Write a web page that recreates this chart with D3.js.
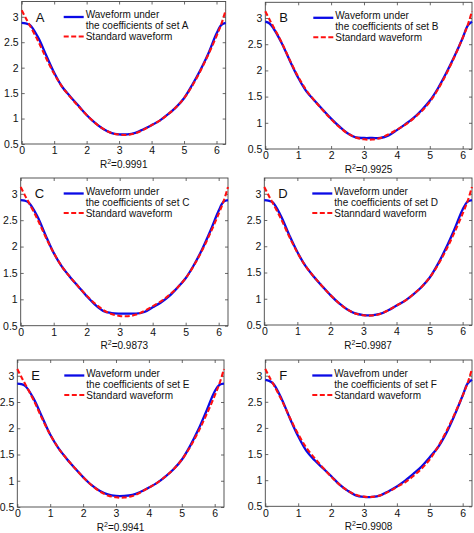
<!DOCTYPE html>
<html>
<head>
<meta charset="utf-8">
<script src="https://cdn.jsdelivr.net/npm/d3@7"></script>
<style>
  body { margin: 0; background: #fff; }
  text { font-family: "Liberation Sans", Arial, sans-serif; fill: #111; }
</style>
</head>
<body>
<script>
// sample positions along the x axis (radians)
const xs = [0, 0.12, 0.25, 0.5, 0.75, 1, 1.25, 1.5, 1.75, 2, 2.25, 2.5, 2.75, 3, 3.25, 3.5, 3.75, 4, 4.25, 4.5, 4.75, 5, 5.25, 5.5, 5.75, 6, 6.15, 6.283]

// standard waveform (red dashed), same in every panel
const standardWave = [3.13, 2.98, 2.83, 2.53, 2.19, 1.88, 1.62, 1.42, 1.24, 1.07, 0.92, 0.80, 0.72, 0.685, 0.68, 0.71, 0.78, 0.87, 0.96, 1.08, 1.22, 1.40, 1.64, 1.93, 2.26, 2.62, 2.86, 3.13]

// waveforms under each coefficient set (blue)
const waveA = [2.88, 2.87, 2.84, 2.60, 2.25, 1.90, 1.62, 1.43, 1.25, 1.07, 0.92, 0.80, 0.72, 0.69, 0.69, 0.72, 0.79, 0.87, 0.96, 1.08, 1.22, 1.40, 1.66, 1.95, 2.28, 2.67, 2.84, 2.88]
const waveB = [2.93, 2.90, 2.80, 2.52, 2.18, 1.86, 1.60, 1.42, 1.25, 1.08, 0.93, 0.80, 0.72, 0.71, 0.71, 0.71, 0.76, 0.86, 0.97, 1.09, 1.24, 1.42, 1.66, 1.95, 2.27, 2.62, 2.85, 2.93]
const waveC = [2.88, 2.87, 2.83, 2.58, 2.22, 1.88, 1.62, 1.42, 1.24, 1.06, 0.90, 0.78, 0.74, 0.73, 0.73, 0.73, 0.76, 0.85, 0.94, 1.06, 1.22, 1.40, 1.65, 1.95, 2.30, 2.68, 2.85, 2.88]
const waveD = [2.88, 2.87, 2.84, 2.58, 2.22, 1.89, 1.62, 1.42, 1.24, 1.07, 0.92, 0.80, 0.72, 0.69, 0.685, 0.71, 0.78, 0.87, 0.96, 1.08, 1.22, 1.40, 1.66, 1.97, 2.32, 2.70, 2.85, 2.88]
const waveE = [2.85, 2.84, 2.80, 2.56, 2.22, 1.88, 1.62, 1.42, 1.24, 1.07, 0.92, 0.81, 0.74, 0.71, 0.71, 0.73, 0.79, 0.87, 0.96, 1.08, 1.22, 1.40, 1.66, 1.97, 2.33, 2.70, 2.83, 2.85]
const waveF = [2.92, 2.90, 2.84, 2.55, 2.18, 1.84, 1.56, 1.38, 1.23, 1.08, 0.92, 0.80, 0.71, 0.68, 0.68, 0.71, 0.79, 0.88, 0.99, 1.12, 1.26, 1.44, 1.63, 1.90, 2.24, 2.62, 2.85, 2.92]

const panelLetters = ['A', 'B', 'C', 'D', 'E', 'F']
const rSquared = ['0.9991', '0.9925', '0.9873', '0.9987', '0.9941', '0.9908']
const legendFirst = ['Waveform under', 'Waveform under', 'Waveform under', 'Waveform under', 'Waveform under', 'Wavefrom under']
const legendStandard = ['Standard waveform', 'Standard waveform', 'Standard waveform', 'Stanndard waveform', 'Standard waveform', 'Standard waveform']

const xTicks = [0, 1, 2, 3, 4, 5, 6]
const yTicks = [0.5, 1, 1.5, 2, 2.5, 3]

// plot boxes in pixels, and legend line offset
const boxes = [
  { l: 21.7, r: 225.7, t: 1.5, b: 144, lx: 42 },
  { l: 265.3, r: 472, t: 2.3, b: 149, lx: 48 },
  { l: 20.7, r: 228, t: 178, b: 325.7, lx: 43 },
  { l: 264.3, r: 472, t: 178, b: 325, lx: 48 },
  { l: 17.3, r: 224, t: 360, b: 507, lx: 47 },
  { l: 265.3, r: 472, t: 360, b: 506.3, lx: 47 }
]
const blueWaves = [waveA, waveB, waveC, waveD, waveE, waveF]

const svg = d3.select('body').append('svg').attr('width', 474).attr('height', 533)

boxes.forEach(function(bx, i) {
  const x = d3.scaleLinear().domain([0, 2 * Math.PI]).range([bx.l, bx.r])
  const y = d3.scaleLinear().domain([0.5, 3.3]).range([bx.b, bx.t])
  const g = svg.append('g')

  // axes with inward ticks, MATLAB box style
  g.append('g').attr('transform', 'translate(0,' + bx.b + ')')
    .call(d3.axisBottom(x).tickValues(xTicks).tickSize(-3).tickPadding(3).tickFormat(d3.format('d')))
  g.append('g').attr('transform', 'translate(0,' + bx.t + ')')
    .call(d3.axisTop(x).tickValues(xTicks).tickSize(-3).tickFormat(''))
  g.append('g').attr('transform', 'translate(' + bx.l + ',0)')
    .call(d3.axisLeft(y).tickValues(yTicks).tickSize(-3).tickPadding(3).tickFormat(d3.format('')))
  g.append('g').attr('transform', 'translate(' + bx.r + ',0)')
    .call(d3.axisRight(y).tickValues(yTicks).tickSize(-3).tickFormat(''))
  g.selectAll('.domain').remove()
  g.selectAll('.tick line').attr('stroke', '#444').attr('stroke-width', 0.8)
  g.selectAll('.tick text').style('font-size', '10.5px').attr('fill', '#111')
    .style('font-family', '"Liberation Sans", Arial, sans-serif')

  g.append('rect').attr('x', bx.l).attr('y', bx.t)
    .attr('width', bx.r - bx.l).attr('height', bx.b - bx.t)
    .attr('fill', 'none').attr('stroke', '#444').attr('stroke-width', 0.9)

  const line = d3.line()
    .x(function(d, k) { return x(xs[k]) })
    .y(function(d) { return y(d) })
    .curve(d3.curveCatmullRom.alpha(0.5))

  g.append('path').attr('d', line(blueWaves[i]))
    .attr('fill', 'none').attr('stroke', '#0a0ae6').attr('stroke-width', 2.3)
  g.append('path').attr('d', line(standardWave))
    .attr('fill', 'none').attr('stroke', '#ff1010').attr('stroke-width', 2.1)
    .attr('stroke-dasharray', '5,2.5')

  // panel letter
  g.append('text').attr('x', bx.l + 14).attr('y', bx.t + 20)
    .style('font-size', '13px').text(panelLetters[i])

  // legend
  const lx = bx.l + bx.lx
  g.append('line').attr('x1', lx).attr('x2', lx + 20)
    .attr('y1', bx.t + 15.5).attr('y2', bx.t + 15.5)
    .attr('stroke', '#0a0ae6').attr('stroke-width', 2.3)
  g.append('line').attr('x1', lx).attr('x2', lx + 20)
    .attr('y1', bx.t + 35).attr('y2', bx.t + 35)
    .attr('stroke', '#ff1010').attr('stroke-width', 2.1).attr('stroke-dasharray', '5,2.5')
  const legTexts = [legendFirst[i], 'the coefficients of set ' + panelLetters[i], legendStandard[i]]
  legTexts.forEach(function(t, k) {
    g.append('text').attr('x', lx + 22).attr('y', bx.t + 16.5 + k * 11)
      .style('font-size', '10px').text(t)
  })

  // R^2 label
  const r = g.append('text').attr('x', (bx.l + bx.r) / 2).attr('y', bx.b + 23.5)
    .attr('text-anchor', 'middle').style('font-size', '10px')
  r.append('tspan').text('R')
  r.append('tspan').attr('dy', -4).style('font-size', '7px').text('2')
  r.append('tspan').attr('dy', 4).text('=' + rSquared[i])
})
</script>
</body>
</html>
